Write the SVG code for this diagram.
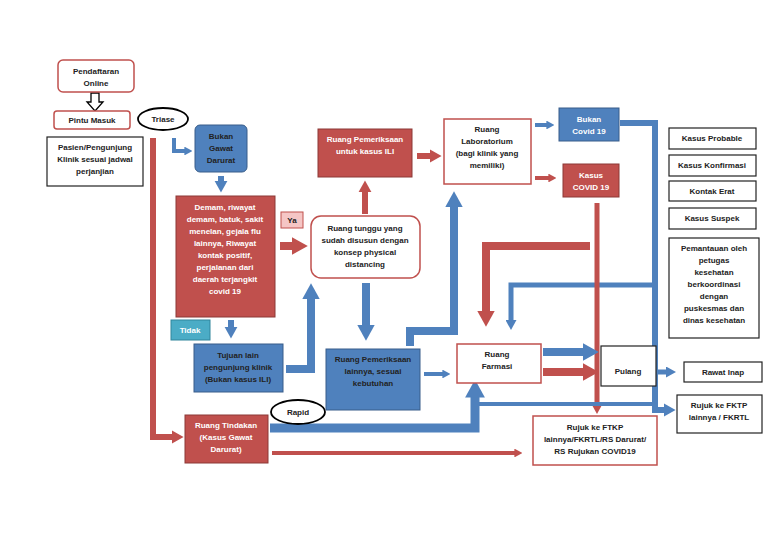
<svg xmlns="http://www.w3.org/2000/svg" width="768" height="543" viewBox="0 0 768 543">
<style>
text{font-family:"Liberation Sans",Arial,sans-serif;font-size:8px;font-weight:bold;text-anchor:middle}
.w{fill:#fff}.k{fill:#222}
.rs{fill:#fff;stroke:#c0504d;stroke-width:1.5}
.rf{fill:#c0504d;stroke:#8c3836;stroke-width:1}
.bf{fill:#4f81bd;stroke:#385d8a;stroke-width:1}
.ks{fill:#fff;stroke:#222;stroke-width:1.2}
.bl{stroke:#4f81bd;fill:none}.rl{stroke:#c0504d;fill:none}
</style>
<defs>
<marker id="ab" markerWidth="2" markerHeight="2.2" refX="0.4" refY="1.1" orient="auto"><path d="M0,0L2,1.1L0,2.2z" fill="#4f81bd"/></marker>
<marker id="ar" markerWidth="2" markerHeight="2.2" refX="0.4" refY="1.1" orient="auto"><path d="M0,0L2,1.1L0,2.2z" fill="#c0504d"/></marker>
</defs>
<rect width="768" height="543" fill="#fff"/>
<g id="connectors">
<path d="M91,93v9h-4l8,9l8,-9h-4v-9z" fill="#fff" stroke="#000" stroke-width="1.3"/>
<path class="rl" d="M153,138V437H174" stroke-width="6" marker-end="url(#ar)"/>
<path class="bl" d="M174,138V151H186" stroke-width="4" marker-end="url(#ab)"/>
<path class="bl" d="M221,176V183" stroke-width="6" marker-end="url(#ab)"/>
<path class="rl" d="M280,246H295" stroke-width="8" marker-end="url(#ar)"/>
<path class="rl" d="M365,214V190" stroke-width="6" marker-end="url(#ar)"/>
<path class="rl" d="M417,156H432" stroke-width="6" marker-end="url(#ar)"/>
<path class="bl" d="M535,125H548" stroke-width="4" marker-end="url(#ab)"/>
<path class="rl" d="M535,178H550" stroke-width="4" marker-end="url(#ar)"/>
<path class="bl" d="M231,320V329" stroke-width="6" marker-end="url(#ab)"/>
<path class="bl" d="M286,369H311V296" stroke-width="8" marker-end="url(#ab)"/>
<path class="bl" d="M366,283V328" stroke-width="8" marker-end="url(#ab)"/>
<path class="bl" d="M424,374H444" stroke-width="4" marker-end="url(#ab)"/>
<path class="bl" d="M410,346V331H454V204" stroke-width="8" marker-end="url(#ab)"/>
<path class="rl" d="M590,246H486V314" stroke-width="8" marker-end="url(#ar)"/>
<path class="bl" d="M653,285H511V322" stroke-width="5" marker-end="url(#ab)"/>
<path class="rl" d="M597,203V406" stroke-width="5" marker-end="url(#ar)"/>
<path class="bl" d="M620,123H655V410H666" stroke-width="6" marker-end="url(#ab)"/>
<path class="bl" d="M543,352H586" stroke-width="8" marker-end="url(#ab)"/>
<path class="rl" d="M543,372H586" stroke-width="8" marker-end="url(#ar)"/>
<path class="bl" d="M658,372H668" stroke-width="5" marker-end="url(#ab)"/>
<path class="bl" d="M270,428H475V394" stroke-width="9" marker-end="url(#ab)"/>
<path class="bl" d="M478,404H652" stroke-width="4"/>
<path class="rl" d="M272,453H516" stroke-width="4" marker-end="url(#ar)"/>
</g>
<g id="pendaftaran"><rect class="rs" x="58" y="60" width="76" height="32" rx="5"/><text x="96" y="74" class="k">Pendaftaran</text><text x="96" y="86" class="k">Online</text></g>
<g id="pintu"><rect class="rs" x="54" y="111" width="76" height="18" rx="3"/><text x="92" y="123" class="k">Pintu Masuk</text></g>
<g id="triase"><ellipse cx="163" cy="119" rx="25" ry="11" fill="#fff" stroke="#000" stroke-width="1.8"/><text x="163" y="122" class="k">Triase</text></g>
<g id="pasien"><rect class="ks" x="47" y="137" width="96" height="49"/><text x="95" y="150" class="k">Pasien/Pengunjung</text><text x="95" y="162" class="k">Klinik sesuai jadwal</text><text x="95" y="174" class="k">perjanjian</text></g>
<g id="bukangd"><rect class="bf" x="195" y="125" width="52" height="47" rx="5"/><text x="221" y="139" class="k">Bukan</text><text x="221" y="151" class="k">Gawat</text><text x="221" y="163" class="k">Darurat</text></g>
<g id="demam"><rect class="rf" x="176" y="196" width="99" height="121"/>
<text class="w" x="225" y="210">Demam, riwayat</text><text class="w" x="225" y="222">demam, batuk, sakit</text><text class="w" x="225" y="234">menelan, gejala flu</text><text class="w" x="225" y="246">lainnya, Riwayat</text><text class="w" x="225" y="258">kontak positif,</text><text class="w" x="225" y="270">perjalanan dari</text><text class="w" x="225" y="282">daerah terjangkit</text><text class="w" x="225" y="294">covid 19</text></g>
<g id="ya"><rect x="281" y="212" width="22" height="16" fill="#f5c6c5" stroke="#c0504d"/><text x="292" y="223" class="k">Ya</text></g>
<g id="tunggu"><rect class="rs" x="311" y="216" width="109" height="62" rx="10"/><text x="365" y="231" class="k">Ruang tunggu yang</text><text x="365" y="243" class="k">sudah disusun dengan</text><text x="365" y="255" class="k">konsep physical</text><text x="365" y="267" class="k">distancing</text></g>
<g id="ili"><rect class="rf" x="318" y="129" width="94" height="48"/><text class="w" x="365" y="142">Ruang Pemeriksaan</text><text class="w" x="365" y="154">untuk kasus ILI</text></g>
<g id="lab"><rect class="rs" x="444" y="119" width="87" height="65"/><text x="487" y="132" class="k">Ruang</text><text x="487" y="144" class="k">Laboratorium</text><text x="487" y="156" class="k">(bagi klinik yang</text><text x="487" y="168" class="k">memiliki)</text></g>
<g id="bukancovid"><rect class="bf" x="559" y="108" width="60" height="33"/><text class="w" x="589" y="122">Bukan</text><text class="w" x="589" y="134">Covid 19</text></g>
<g id="kasuscovid"><rect class="rf" x="563" y="164" width="56" height="33"/><text class="w" x="591" y="178">Kasus</text><text class="w" x="591" y="190">COVID 19</text></g>
<g id="tidak"><rect x="171" y="320" width="39" height="20" fill="#4bacc6" stroke="#31859c"/><text class="w" x="190" y="333">Tidak</text></g>
<g id="tujuan"><rect class="bf" x="194" y="344" width="89" height="48"/><text x="238" y="358" class="k">Tujuan lain</text><text x="238" y="370" class="k">pengunjung klinik</text><text x="238" y="382" class="k">(Bukan kasus ILI)</text></g>
<g id="lainnya"><rect class="bf" x="326" y="349" width="94" height="61"/><text x="373" y="362" class="k">Ruang Pemeriksaan</text><text x="373" y="374" class="k">lainnya, sesuai</text><text x="373" y="386" class="k">kebutuhan</text></g>
<g id="farmasi"><rect class="rs" x="457" y="344" width="84" height="39"/><text x="497" y="357" class="k">Ruang</text><text x="497" y="369" class="k">Farmasi</text></g>
<g id="pulang"><rect class="ks" x="601" y="346" width="55" height="40"/><text x="628" y="374" class="k">Pulang</text></g>
<g id="rawatinap"><rect class="ks" x="684" y="362" width="78" height="20"/><text x="723" y="375" class="k">Rawat Inap</text></g>
<g id="rujukfktp"><rect class="ks" x="677" y="395" width="85" height="38"/><text x="719" y="408" class="k">Rujuk ke FKTP</text><text x="719" y="420" class="k">lainnya / FKRTL</text></g>
<g id="probable"><rect class="ks" x="669" y="128" width="87" height="21"/><text x="712" y="141" class="k">Kasus Probable</text></g>
<g id="konfirmasi"><rect class="ks" x="669" y="155" width="87" height="21"/><text x="712" y="168" class="k">Kasus Konfirmasi</text></g>
<g id="kontak"><rect class="ks" x="669" y="181" width="87" height="20"/><text x="712" y="194" class="k">Kontak Erat</text></g>
<g id="suspek"><rect class="ks" x="669" y="208" width="87" height="21"/><text x="712" y="221" class="k">Kasus Suspek</text></g>
<g id="pemantauan"><rect class="ks" x="669" y="238" width="90" height="100"/><text x="714" y="251" class="k">Pemantauan oleh</text><text x="714" y="263" class="k">petugas</text><text x="714" y="275" class="k">kesehatan</text><text x="714" y="287" class="k">berkoordinasi</text><text x="714" y="299" class="k">dengan</text><text x="714" y="311" class="k">puskesmas dan</text><text x="714" y="323" class="k">dinas kesehatan</text></g>
<g id="rujukftkp"><rect class="rs" x="533" y="416" width="124" height="49"/><text x="595" y="430" class="k">Rujuk ke FTKP</text><text x="595" y="442" class="k">lainnya/FKRTL/RS Darurat/</text><text x="595" y="454" class="k">RS Rujukan COVID19</text></g>
<g id="tindakan"><rect class="rf" x="185" y="415" width="83" height="48"/><text class="w" x="226" y="428">Ruang Tindakan</text><text class="w" x="226" y="440">(Kasus Gawat</text><text class="w" x="226" y="452">Darurat)</text></g>
<g id="rapid"><ellipse cx="298" cy="412" rx="27" ry="12" fill="#fff" stroke="#000" stroke-width="1.8"/><text x="298" y="415" class="k">Rapid</text></g>
</svg>
